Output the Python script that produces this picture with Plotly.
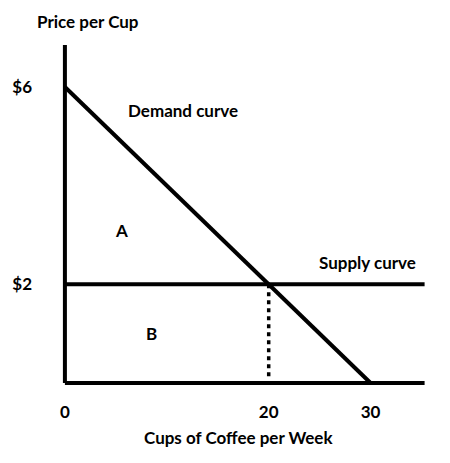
import plotly.graph_objects as go

# Data
demand_q = [0, 30]
demand_p = [6, 0]
supply_price = 2
equilibrium_q = 20
x_tick_vals = [0, 20, 30]
x_tick_text = ["0", "20", "30"]
y_tick_vals = [2, 6]
y_tick_text = ["$2", "$6"]
x_end = 35.3
y_top = 6.85

FONT = "Lato"
BLACK = "#000000"

fig = go.Figure()

# y axis line
fig.add_trace(go.Scatter(x=[0, 0], y=[0, y_top], mode="lines",
                         line=dict(color=BLACK, width=4), hoverinfo="skip"))
# x axis line
fig.add_trace(go.Scatter(x=[0, x_end], y=[0, 0], mode="lines",
                         line=dict(color=BLACK, width=4), hoverinfo="skip"))
# demand
fig.add_trace(go.Scatter(x=demand_q, y=demand_p, mode="lines",
                         line=dict(color=BLACK, width=4)))
# supply
fig.add_trace(go.Scatter(x=[0, x_end], y=[supply_price, supply_price], mode="lines",
                         line=dict(color=BLACK, width=4)))
# dotted equilibrium
fig.add_trace(go.Scatter(x=[equilibrium_q, equilibrium_q], y=[supply_price, 0.1], mode="lines",
                         line=dict(color=BLACK, width=3.5, dash="4px,4px")))

ann_font = dict(family=FONT, size=17, color=BLACK)
annotations = [
    dict(text="<b>Demand curve</b>", x=11.6, y=5.53, xref="x", yref="y", showarrow=False, font=ann_font),
    dict(text="<b>Supply curve</b>", x=29.7, y=supply_price, yshift=22, xref="x", yref="y", showarrow=False, font=ann_font),
    dict(text="<b>A</b>", x=5.55, y=3.1, xref="x", yref="y", showarrow=False, font=ann_font),
    dict(text="<b>B</b>", x=8.45, y=1.0, xref="x", yref="y", showarrow=False, font=ann_font),
    dict(text="<b>Price per Cup</b>", x=(31 - 55) / 370, y=(463 - 22 - 76) / 345, xref="paper", yref="paper",
         xanchor="left", yanchor="middle", showarrow=False, font=ann_font),
    dict(text="<b>Cups of Coffee per Week</b>", x=(236 - 55) / 370, y=(463 - 437 - 76) / 345, xref="paper", yref="paper",
         xanchor="center", yanchor="middle", showarrow=False, font=ann_font),
]

fig.update_layout(
    width=450, height=463,
    margin=dict(l=55, r=25, t=42, b=76),
    paper_bgcolor="white", plot_bgcolor="white",
    showlegend=False,
    annotations=annotations,
    xaxis=dict(range=[-0.58, 35.34], showgrid=False, zeroline=False, showline=False,
               tickvals=x_tick_vals, ticktext=[f"<b>{t}</b>" for t in x_tick_text],
               ticks="", tickfont=dict(family=FONT, size=17, color=BLACK), ticklabelstandoff=13),
    yaxis=dict(range=[-0.081, 6.913], showgrid=False, zeroline=False, showline=False,
               tickvals=y_tick_vals, ticktext=[f"<b>{t}</b>" for t in y_tick_text],
               ticks="", tickfont=dict(family=FONT, size=17, color=BLACK), ticklabelstandoff=26),
)

fig.write_html("out.html")
